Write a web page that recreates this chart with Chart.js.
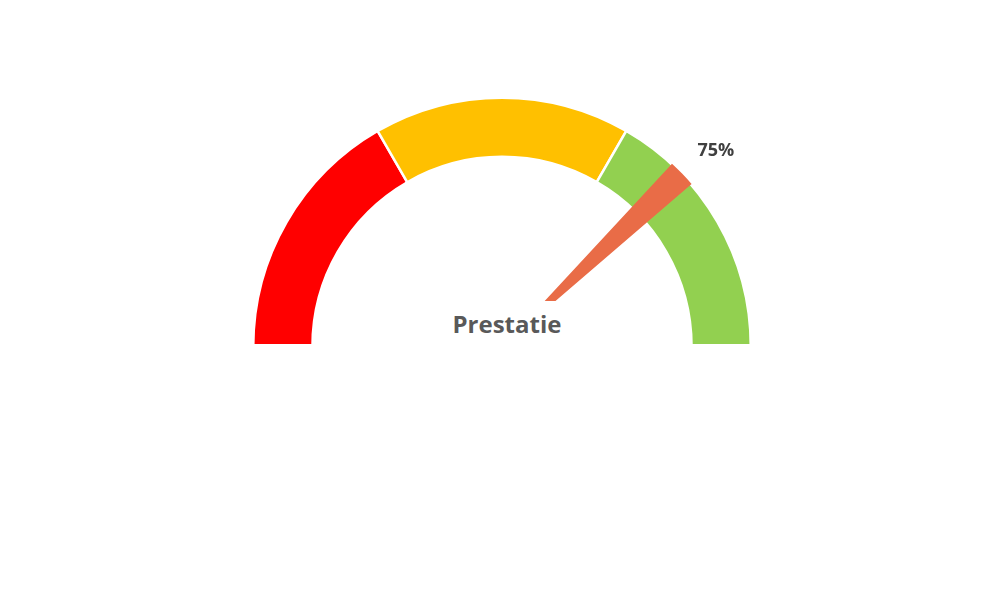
<!DOCTYPE html>
<html>
<head>
<meta charset="utf-8">
<script src="https://cdn.jsdelivr.net/npm/chart.js@4/dist/chart.umd.min.js"></script>
<style>
  html, body { margin: 0; padding: 0; background: #fff; }
  body { width: 989px; height: 613px; position: relative; overflow: hidden; font-family: "Open Sans", sans-serif; }
  .layer { position: absolute; left: 252px; top: 96px; width: 500px; height: 252px; }
  #bottom-mask { position: absolute; left: 240px; top: 344px; width: 520px; height: 10px; background: #fff; }
  #title-box { position: absolute; left: 430px; top: 301px; width: 154px; height: 48px; background: #fff;
               text-align: center; font-weight: 700; font-size: 24px; color: #595959; line-height: 46px; }
  #value-label { position: absolute; font-weight: 700; font-size: 18px; color: #404040; transform: translate(-50%, -50%); }
</style>
</head>
<body>
<div class="layer"><canvas id="gauge"></canvas></div>
<div class="layer"><canvas id="needle"></canvas></div>
<div id="bottom-mask"></div>
<div id="title-box">Prestatie</div>
<div id="value-label"></div>
<script>
const bandLabels = ["Slecht", "Matig", "Goed"];
const bandValues = [33.33, 33.33, 33.34];
const bandColors = ["#FF0000", "#FFC000", "#92D050"];

const score = 75;
const needleLabels = ["Voor", "Naald", "Na"];
const needleValues = [73.8, 3.6, 22.6];
const needleColors = ["rgba(0,0,0,0)", "#E96C47", "rgba(0,0,0,0)"];

const halfCircle = {
    rotation: -90,
    circumference: 180,
    responsive: true,
    maintainAspectRatio: false,
    animation: false,
    events: [],
    layout: { padding: 0 },
    plugins: { legend: { display: false }, tooltip: { enabled: false } }
};

new Chart(document.getElementById("gauge"), {
    type: "doughnut",
    data: {
        labels: bandLabels,
        datasets: [{
            data: bandValues,
            backgroundColor: bandColors,
            borderColor: "#ffffff",
            borderWidth: 2.5
        }]
    },
    options: { ...halfCircle, cutout: "76.2%" }
});

const needleChart = new Chart(document.getElementById("needle"), {
    type: "pie",
    data: {
        labels: needleLabels,
        datasets: [{
            data: needleValues,
            backgroundColor: needleColors,
            borderWidth: 0
        }]
    },
    options: halfCircle
});

// place the value label just outside the needle tip
const arc = needleChart.getDatasetMeta(0).data[1];
const mid = (arc.startAngle + arc.endAngle) / 2;
const r = arc.outerRadius * 1.165;
const label = document.getElementById("value-label");
label.textContent = score + "%";
label.style.left = (252 + arc.x + Math.cos(mid) * r + 4) + "px";
label.style.top = (96 + arc.y + Math.sin(mid) * r + 4) + "px";
</script>
</body>
</html>
